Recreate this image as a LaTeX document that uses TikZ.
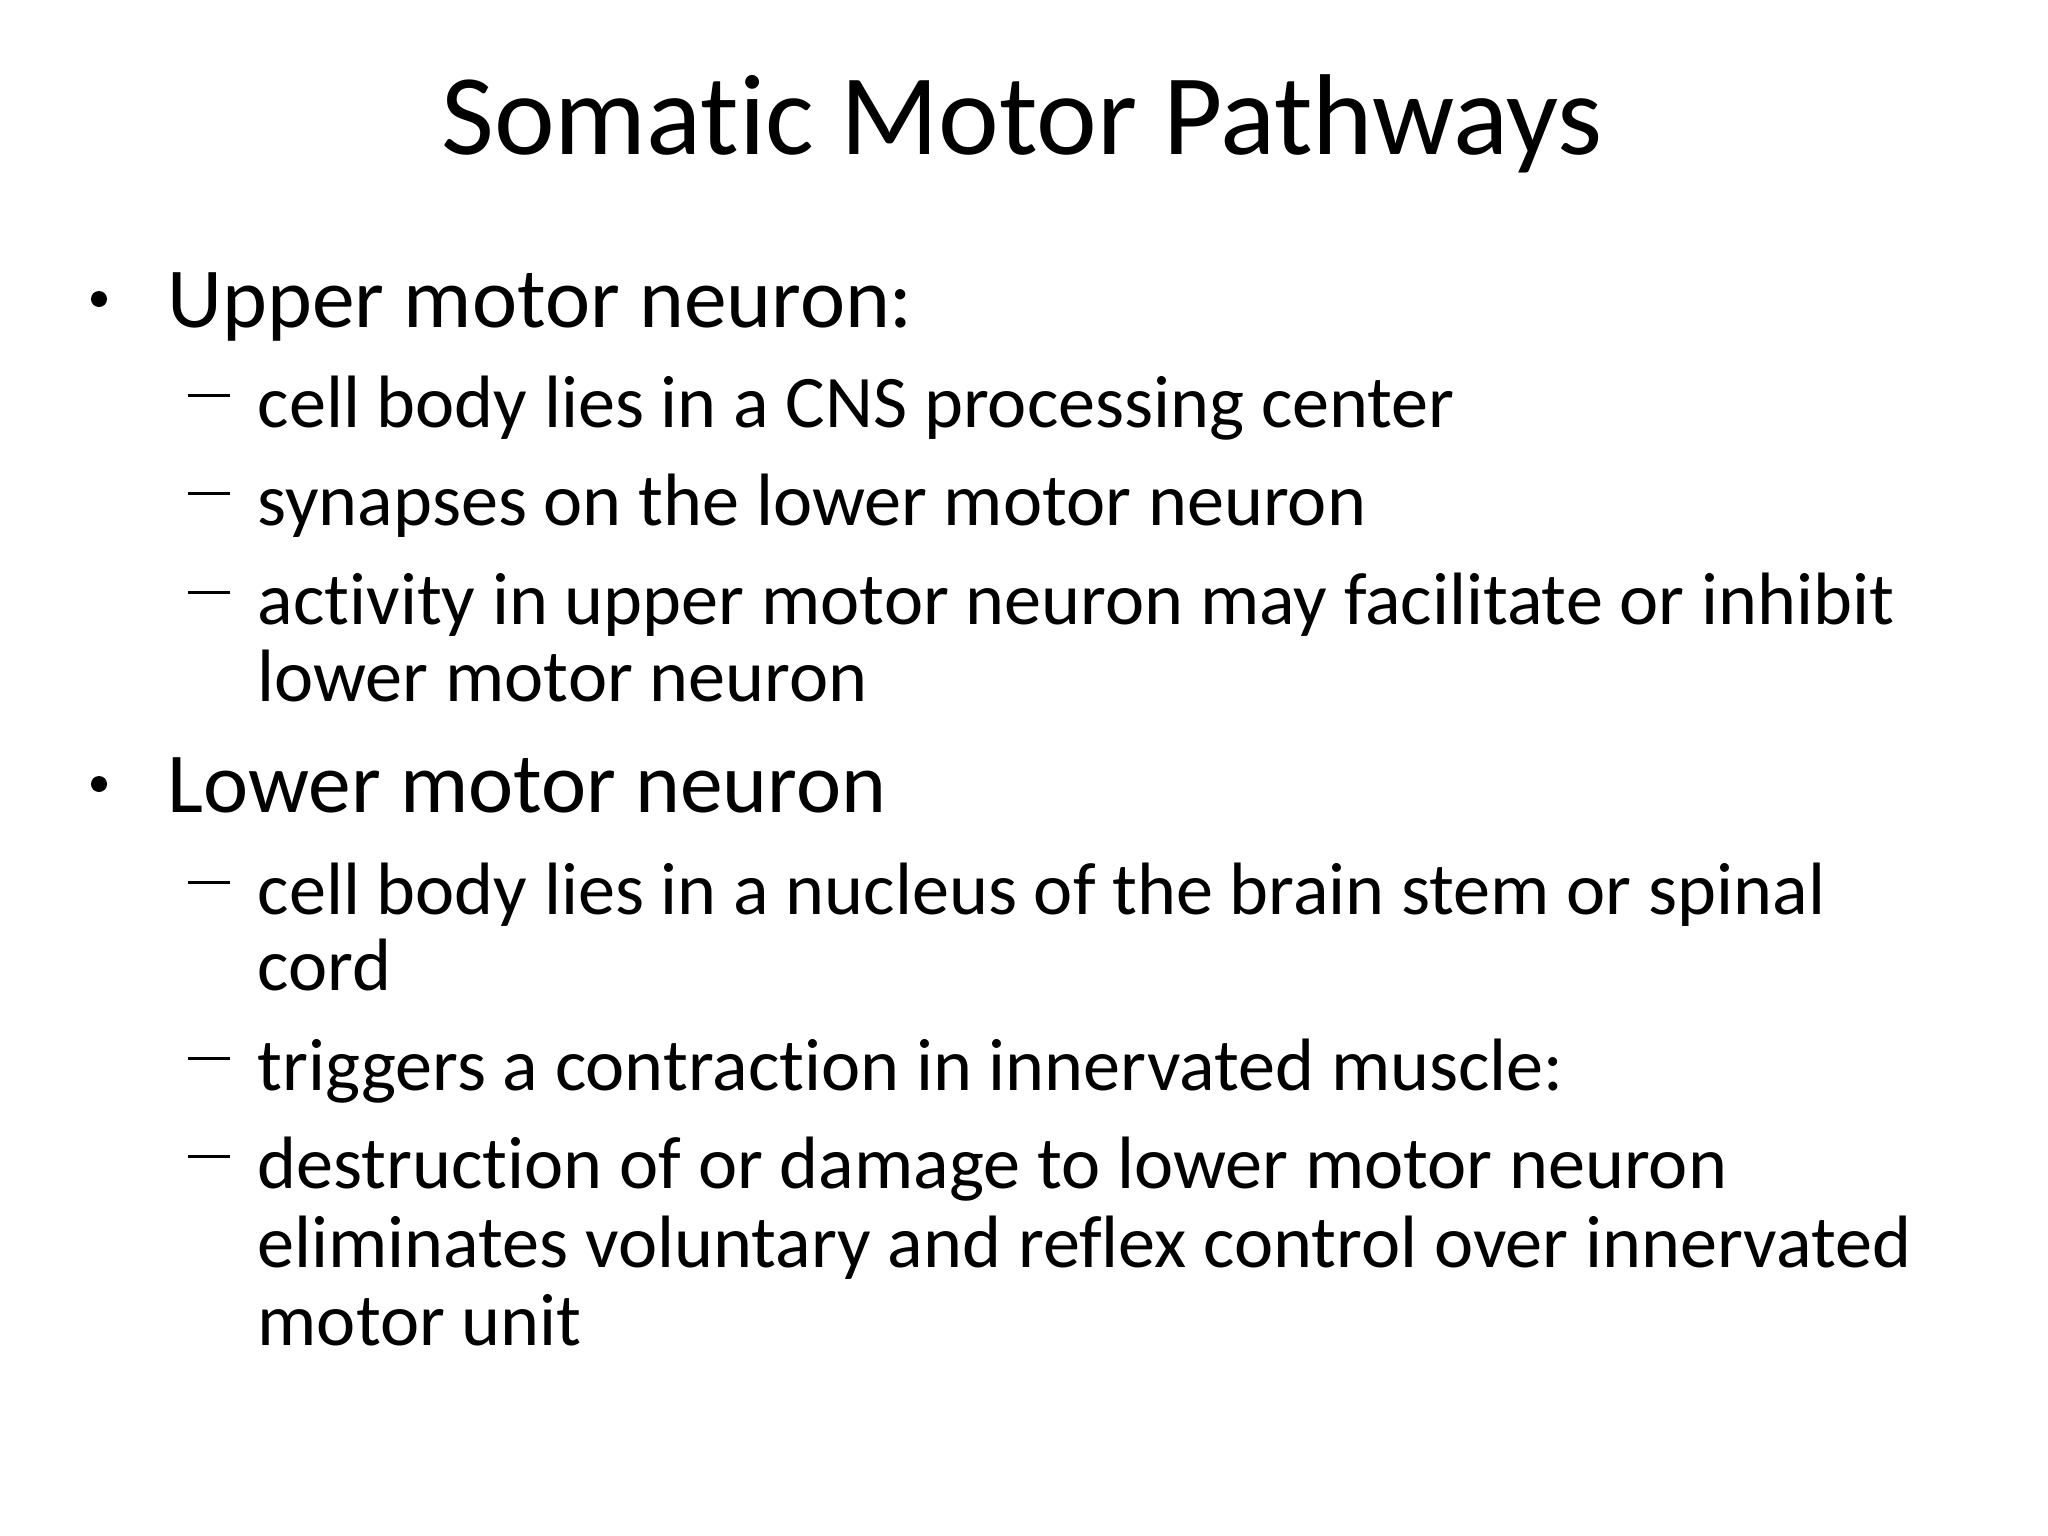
\documentclass[tikz,border=0pt]{standalone}
\usepackage{fontspec}
\setmainfont[Ligatures=NoCommon]{Carlito}
\begin{document}
\begin{tikzpicture}[x=0.01cm,y=-0.01cm,
  ttl/.style={font=\fontsize{32.7}{38}\selectfont,anchor=base},
  lvl/.style={font=\fontsize{24.3}{29}\selectfont,anchor=base west,inner sep=0},
  sub/.style={font=\fontsize{21.1}{25}\selectfont,anchor=base west,inner sep=0},
  dot/.style={circle,fill=black,inner sep=0,minimum size=0.16cm},
  dsh/.style={anchor=base west,inner sep=0}]
\useasboundingbox (0,0) rectangle (2048,1536);
\newcommand{\mydash}{\rule[0.3cm]{0.42cm}{0.032cm}}
\node[ttl] (title) at (1022,154) {Somatic Motor Pathways};
\node[dot] (b1) at (99,299) {};
\node[lvl] (t1) at (167,327) {Upper motor neuron:};
\node[dsh] (d1) at (187,427) {\mydash};
\node[sub] (s1) at (257,427) {cell body lies in a CNS processing center};
\node[dsh] (d2) at (187,525) {\mydash};
\node[sub] (s2) at (257,525) {synapses on the lower motor neuron};
\node[dsh] (d3) at (187,624) {\mydash};
\node[sub] (s3) at (257,624) {activity in upper motor neuron may facilitate or inhibit};
\node[sub] (s3b) at (257,701) {lower motor neuron};
\node[dot] (b2) at (99,784) {};
\node[lvl] (t2) at (167,812) {Lower motor neuron};
\node[dsh] (d4) at (187,914) {\mydash};
\node[sub] (s4) at (257,914) {cell body lies in a nucleus of the brain stem or spinal};
\node[sub] (s4b) at (257,990) {cord};
\node[dsh] (d5) at (187,1090) {\mydash};
\node[sub] (s5) at (257,1090) {triggers a contraction in innervated muscle:};
\node[dsh] (d6) at (187,1188) {\mydash};
\node[sub] (s6) at (257,1188) {destruction of or damage to lower motor neuron};
\node[sub] (s6b) at (257,1267) {eliminates voluntary and reflex control over innervated};
\node[sub] (s6c) at (257,1345) {motor unit};
\end{tikzpicture}
\end{document}
